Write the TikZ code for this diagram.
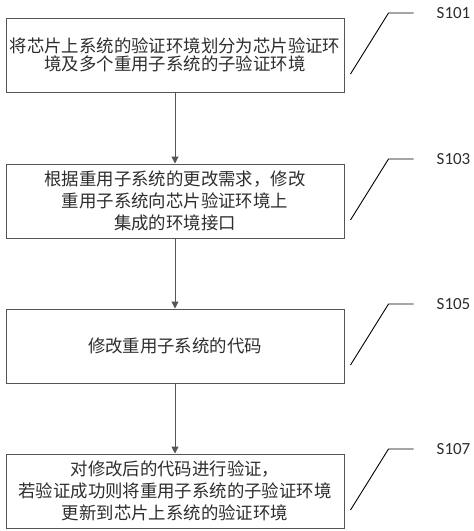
\documentclass[tikz,border=0pt]{standalone}
\usepackage{fontspec}
\setmainfont{Noto Sans CJK SC}
\newfontfamily\labelfont{Carlito}
\usetikzlibrary{arrows.meta,positioning}
\definecolor{boxgray}{RGB}{85,85,85}
\definecolor{txtgray}{RGB}{45,45,45}

\begin{document}
\begin{tikzpicture}[x=1pt,y=1pt,
  procbox/.style={draw=boxgray, line width=1pt, minimum width=338pt, minimum height=74pt,
    inner sep=0pt, align=center, text=txtgray, font=\fontsize{17.4}{18.5}\selectfont},
  widebox/.style={procbox, font=\fontsize{17.4}{22.2}\selectfont},
  flow/.style={-{Triangle[length=7pt,width=7pt]}, line width=1pt, boxgray},
  leader/.style={line width=0.9pt, black}]
\useasboundingbox (0,0) rectangle (474,-531);
% steps
\node[procbox] (s101) at (175,-55) {将芯片上系统的验证环境划分为芯片验证环\\境及多个重用子系统的子验证环境};
\node[widebox, below=71pt of s101] (s103) {根据重用子系统的更改需求，修改\\重用子系统向芯片验证环境上\\集成的环境接口};
\node[procbox, below=70pt of s103] (s105) {修改重用子系统的代码};
\node[widebox, below=70pt of s105] (s107) {对修改后的代码进行验证，\\若验证成功则将重用子系统的子验证环境\\更新到芯片上系统的验证环境};
% arrows
\draw[flow] (s101) -- (s103);
\draw[flow] (s103) -- (s105);
\draw[flow] (s105) -- (s107);
% step labels
\foreach \n in {101,103,105,107} {
  \coordinate (a\n) at ([shift={(6,-19)}]s\n.east);
  \coordinate (b\n) at ([shift={(44,42)}]s\n.east);
  \coordinate (c\n) at ([shift={(69,42)}]s\n.east);
  \draw[leader] (a\n) -- (b\n) -- (c\n);
  \node[font=\labelfont\fontsize{17}{20}\selectfont, text=txtgray, anchor=west, inner sep=0pt] (t\n) at ([xshift=23pt]c\n) {S\n};
}
\end{tikzpicture}
\end{document}
